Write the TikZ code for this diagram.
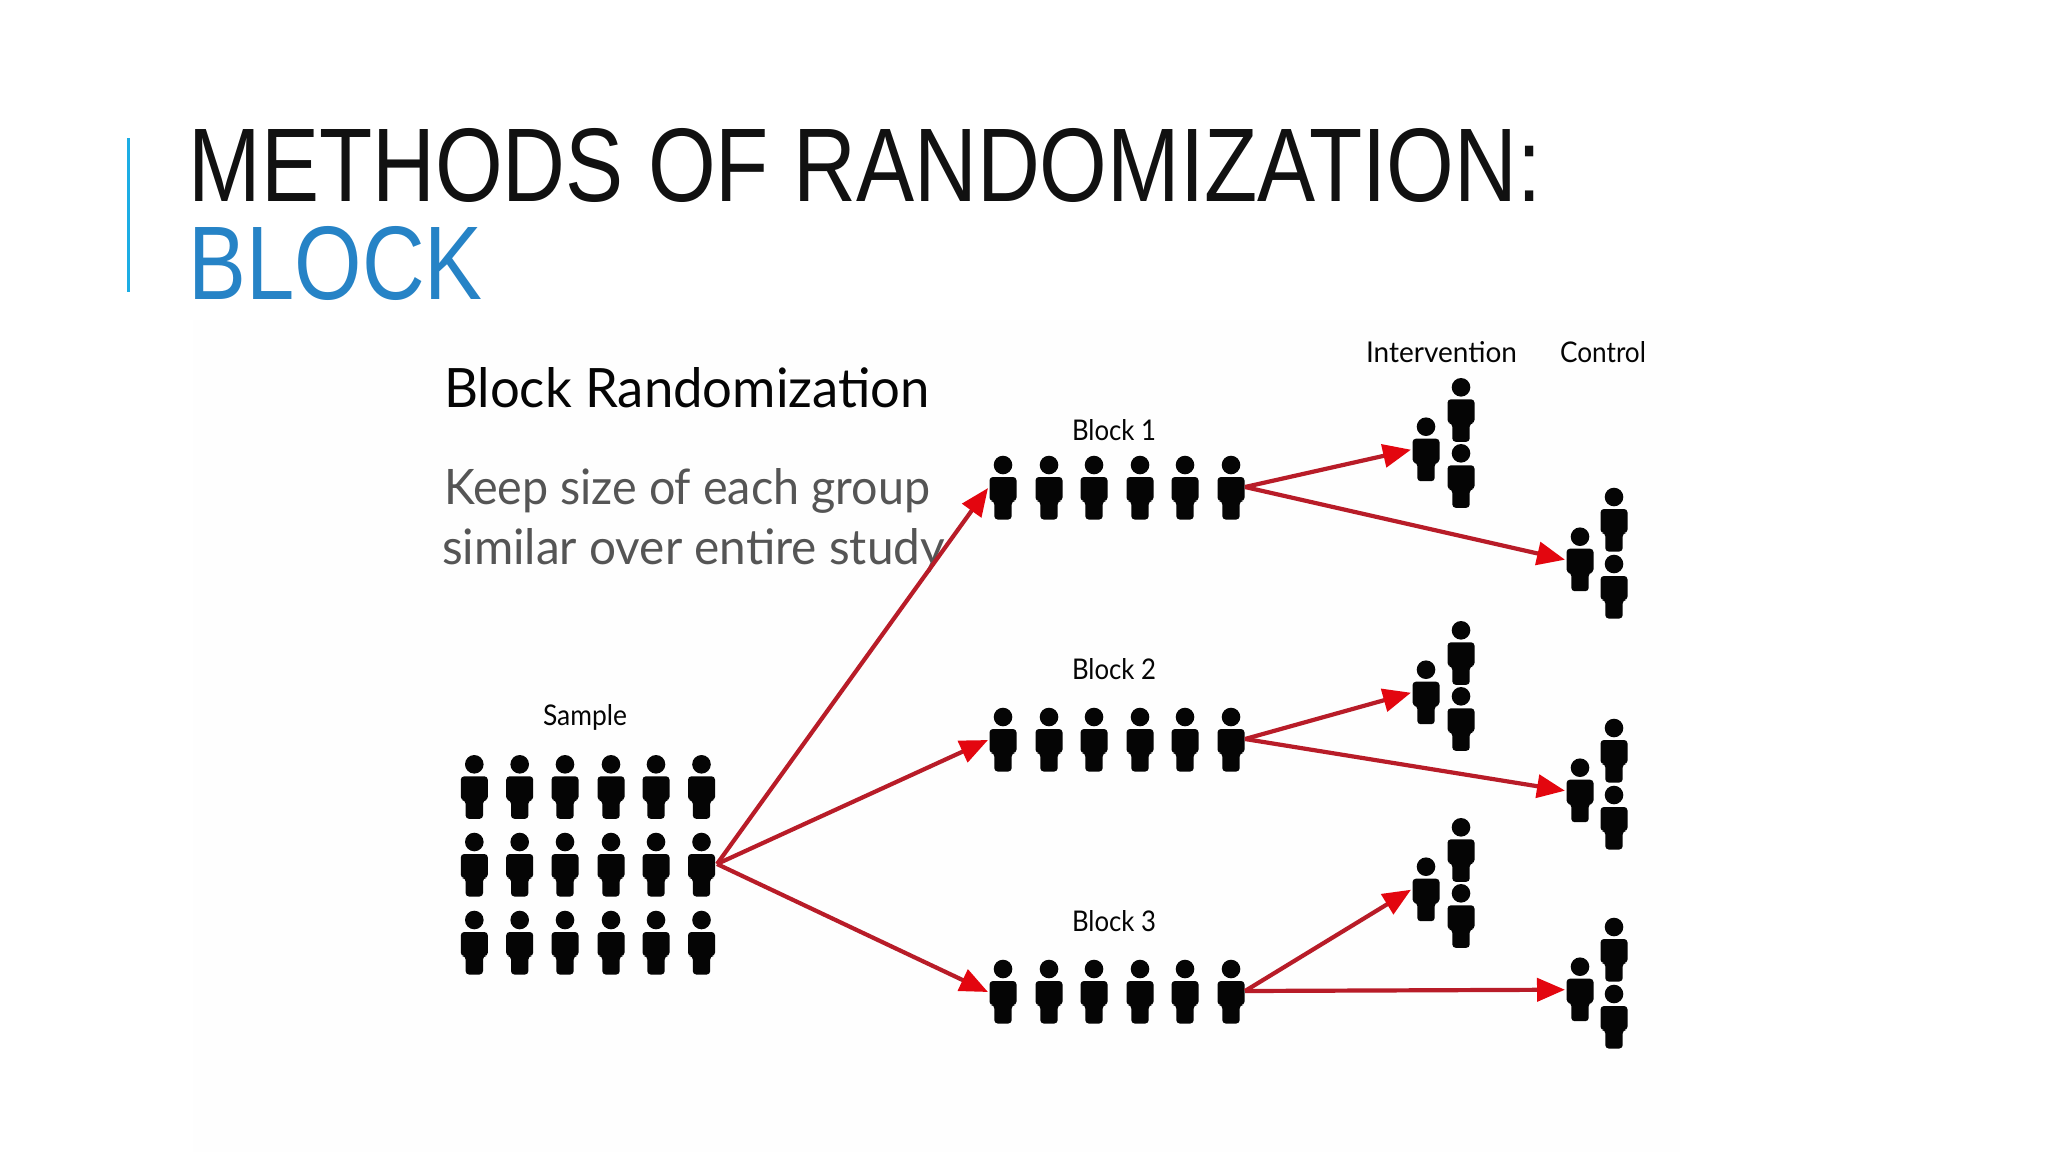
\documentclass[tikz,border=0pt]{standalone}
\usepackage{fontspec}
\usepackage{graphicx}
\setmainfont{Liberation Sans}
\newfontfamily\handfont{Lato}
\usetikzlibrary{arrows.meta}
\definecolor{titleblack}{HTML}{111111}
\definecolor{titleblue}{HTML}{2683C6}
\definecolor{barblue}{HTML}{1CADE4}
\definecolor{shaftred}{HTML}{B81C28}
\definecolor{tipred}{HTML}{E3060F}
\definecolor{subgray}{HTML}{555555}
\definecolor{inkblack}{HTML}{050505}
\definecolor{imgbg}{HTML}{FEFEFE}
\newcommand{\fitbox}[3]{\resizebox{#1pt}{#2pt}{#3}}
\tikzset{
  x=1pt,y=-1pt,
  txt/.style={anchor=base west,inner sep=0pt,outer sep=0pt},
  hand/.style={txt,font=\handfont\fontsize{30}{30}\selectfont,text=inkblack},
  person/.pic={
    \fill[inkblack] (0,0) circle[radius=9.3pt];
    \fill[inkblack,rounded corners=3.4pt] (-13.5,12) -- (13.5,12) -- (13.5,36) -- (8.7,36) -- (8.7,54.5) -- (-8.7,54.5) -- (-8.7,36) -- (-13.5,36) -- cycle;
    \coordinate (-east) at (14,22);
    \coordinate (-west) at (-15,23);
  },
  link/.style={draw=shaftred,line width=4.2pt,-{Triangle[length=28pt,width=23pt,color=tipred]}},
}
\begin{document}
\begin{tikzpicture}
\useasboundingbox (0,0) rectangle (2048,1152);
\fill[white] (0,0) rectangle (2048,1152);
\fill[imgbg] (193,320) rectangle (1680,1152);
% title
\fill[barblue] (126.5,138) rectangle (129.5,292);
\node[txt,text=titleblack] (title1) at (188.5,201.7) {\fitbox{1352}{73}{METHODS OF RANDOMIZATION:}};
\node[txt,text=titleblue] (title2) at (188.5,299) {\fitbox{294}{73}{BLOCK}};
% heading
\node[hand] (heading) at (444,407) {\fitbox{486}{40}{Block Randomization}};
\node[hand,text=subgray] (sub1) at (444,504) {\fitbox{486}{36}{Keep size of each group}};
\node[hand,text=subgray] (sub2) at (442,564) {\fitbox{503}{36}{similar over entire study}};
% labels
\node[hand] (lint) at (1366,362) {\fitbox{151}{21}{Intervention}};
\node[hand] (lctl) at (1560,362) {\fitbox{86}{21}{Control}};
\node[hand] (lb1) at (1072,440) {\fitbox{84}{21}{Block 1}};
\node[hand] (lb2) at (1072,679) {\fitbox{84}{21}{Block 2}};
\node[hand] (lb3) at (1072,931) {\fitbox{84}{21}{Block 3}};
\node[hand] (lsam) at (543,725) {\fitbox{84}{21}{Sample}};
% sample
\foreach \c/\x in {1/474.3,2/519.7,3/565,4/611,5/656,6/701.5}
  \foreach \r/\y in {1/764.3,2/842,3/920}
    \pic (s\r\c) at (\x,\y) {person};
% blocks
\foreach \b/\y in {1/465,2/717,3/969}
  \foreach \c/\x in {1/1003,2/1049,3/1094,4/1140,5/1185,6/1231}
    \pic (b\b\c) at (\x,\y) {person};
% intervention groups
\foreach \b/\d in {1/0,2/243,3/440}{
  \pic (i\b f) at (1426,426.7+\d) {person};
  \pic (i\b t) at (1461,387.3+\d) {person};
  \pic (i\b u) at (1461,453.3+\d) {person};
}
% control groups
\foreach \b/\d in {1/0,2/231,3/430}{
  \pic (c\b f) at (1580,536.7+\d) {person};
  \pic (c\b t) at (1614,497+\d) {person};
  \pic (c\b u) at (1614,564+\d) {person};
}
% connectors
\coordinate (sout) at ([xshift=1.5pt]s26-east);
\foreach \b in {1,2,3}{
  \draw[link] (sout) -- (b\b1-west);
  \draw[link] (b\b6-east) -- (i\b f-west);
  \draw[link] (b\b6-east) -- (c\b f-west);
}
\end{tikzpicture}
\end{document}
